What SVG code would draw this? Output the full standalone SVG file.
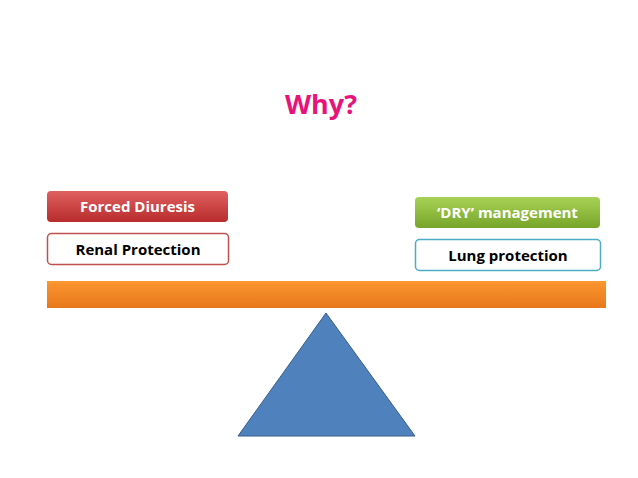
<svg xmlns="http://www.w3.org/2000/svg" width="638" height="478" viewBox="0 0 638 478">
<defs>
<style>
text{font-family:"Open Sans","Liberation Sans",sans-serif;font-weight:bold;text-anchor:middle}
.w{fill:#fff;font-size:15px}.b{fill:#000;font-size:15px}
</style>
<linearGradient id="red" x1="0" y1="0" x2="0" y2="1"><stop offset="0" stop-color="#e06060"/><stop offset="1" stop-color="#b82c2c"/></linearGradient>
<linearGradient id="grn" x1="0" y1="0" x2="0" y2="1"><stop offset="0" stop-color="#a8d255"/><stop offset="1" stop-color="#76a52a"/></linearGradient>
<linearGradient id="org" x1="0" y1="0" x2="0" y2="1"><stop offset="0" stop-color="#fb9630"/><stop offset="1" stop-color="#e8781a"/></linearGradient>
</defs>
<rect width="638" height="478" fill="#fff"/>
<text x="321" y="114" style="font-size:27px;fill:#e8137a">Why?</text>
<g id="forced"><rect x="47" y="191" width="181" height="31" rx="4" fill="url(#red)"/><text class="w" x="137.5" y="212">Forced Diuresis</text></g>
<g id="renal"><rect x="47.5" y="233.5" width="181" height="31" rx="4" fill="#fff" stroke="#c0504d" stroke-width="1.5"/><text class="b" x="138" y="255">Renal Protection</text></g>
<g id="dry"><rect x="415" y="197" width="185" height="31" rx="4" fill="url(#grn)"/><text class="w" x="507.5" y="218">‘DRY’ management</text></g>
<g id="lung"><rect x="415.5" y="239.5" width="185" height="31" rx="4" fill="#fff" stroke="#4bacc6" stroke-width="1.5"/><text class="b" x="508" y="261">Lung protection</text></g>
<g id="bar"><rect x="47" y="281" width="559" height="27" fill="url(#org)"/></g>
<g id="fulcrum"><polygon points="326,313 238,436 415,436" fill="#4f81bd" stroke="#385d8a" stroke-width="1"/></g>
<g id="connectors"/>
</svg>
